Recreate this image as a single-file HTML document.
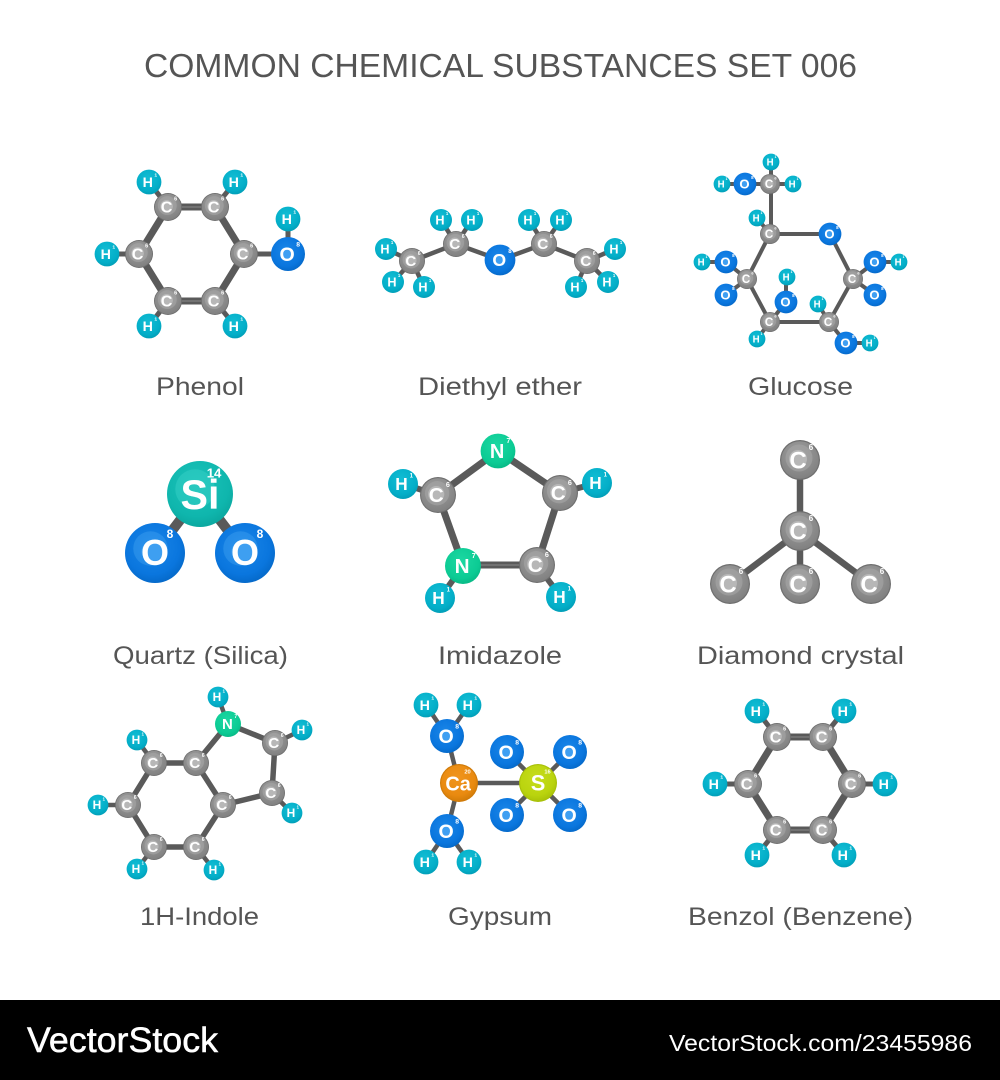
<!DOCTYPE html>
<html>
<head>
<meta charset="utf-8">
<style>
html,body{margin:0;padding:0;background:#fff}
svg{display:block}
.t{font-family:"Liberation Sans",sans-serif;fill:#555;text-anchor:middle}
.e{font:bold 23px "Liberation Sans",sans-serif;fill:#fff;text-anchor:middle}
.n{font:bold 8px "Liberation Sans",sans-serif;fill:#fff;text-anchor:middle}
.b{fill:none;stroke:#5a5a5a;stroke-linecap:butt}
.c{fill:none;stroke:#7a7a7a;stroke-width:1.500}
</style>
</head>
<body>
<svg xmlns="http://www.w3.org/2000/svg" width="1000" height="1080" viewBox="0 0 1000 1080">
<defs>
<radialGradient id="gC" cx=".45" cy=".35" r=".7"><stop offset="0" stop-color="#a0a0a0"/><stop offset="1" stop-color="#7e7e7e"/></radialGradient>
<radialGradient id="gH" cx=".45" cy=".35" r=".7"><stop offset="0" stop-color="#12bdd4"/><stop offset=".7" stop-color="#03aec8"/><stop offset="1" stop-color="#029ab3"/></radialGradient>
<radialGradient id="gO" cx=".45" cy=".4" r=".65"><stop offset="0" stop-color="#1a86e8"/><stop offset=".7" stop-color="#0a76de"/><stop offset="1" stop-color="#0466c4"/></radialGradient>
<radialGradient id="gN" cx=".45" cy=".35" r=".7"><stop offset="0" stop-color="#1cd8a2"/><stop offset=".7" stop-color="#0ccb94"/><stop offset="1" stop-color="#07b583"/></radialGradient>
<radialGradient id="gS" cx=".45" cy=".35" r=".7"><stop offset="0" stop-color="#1cc3ba"/><stop offset=".7" stop-color="#0fb6ad"/><stop offset="1" stop-color="#0aa49c"/></radialGradient>
<radialGradient id="gA" cx=".45" cy=".35" r=".7"><stop offset="0" stop-color="#f0951e"/><stop offset=".7" stop-color="#e98a10"/><stop offset="1" stop-color="#cf7a08"/></radialGradient>
<radialGradient id="gY" cx=".45" cy=".35" r=".7"><stop offset="0" stop-color="#c6dc1c"/><stop offset=".7" stop-color="#bad40e"/><stop offset="1" stop-color="#a6c008"/></radialGradient>
<g id="bC"><circle r="20" fill="#6e6e6e"/><circle r="18.8" fill="url(#gC)"/><circle cx="-1" cy="-2" r="13.500" fill="#a2a2a2" opacity=".7"/><circle cx="-2" cy="-1" r="9" fill="#bdbdbd" opacity=".8"/></g>
<g id="bH"><circle r="20" fill="url(#gH)"/></g>
<g id="bO"><circle r="20" fill="url(#gO)"/><circle cx="-2" cy="-1" r="7" fill="#3f9ff2"/></g>
<g id="bN"><circle r="20" fill="url(#gN)"/></g>
<g id="bS"><circle r="20" fill="url(#gS)"/></g>
<g id="bA"><circle r="20" fill="#cf7a08"/><circle r="18.8" fill="url(#gA)"/></g>
<g id="bY"><circle r="20" fill="#a8c008"/><circle r="18.8" fill="url(#gY)"/></g>
</defs>

<rect width="1000" height="1080" fill="#fff"/>

<text class="t" x="500.500" y="77" font-size="33" textLength="713" lengthAdjust="spacingAndGlyphs">COMMON CHEMICAL SUBSTANCES SET 006</text>

<text class="t" x="200" y="395" font-size="25" textLength="88" lengthAdjust="spacingAndGlyphs">Phenol</text>
<text class="t" x="500" y="395" font-size="25" textLength="164" lengthAdjust="spacingAndGlyphs">Diethyl ether</text>
<text class="t" x="800.500" y="395" font-size="25" textLength="105" lengthAdjust="spacingAndGlyphs">Glucose</text>
<text class="t" x="200.500" y="664" font-size="25" textLength="175" lengthAdjust="spacingAndGlyphs">Quartz (Silica)</text>
<text class="t" x="500" y="664" font-size="25" textLength="124" lengthAdjust="spacingAndGlyphs">Imidazole</text>
<text class="t" x="800.500" y="664" font-size="25" textLength="207" lengthAdjust="spacingAndGlyphs">Diamond crystal</text>
<text class="t" x="199.500" y="925" font-size="25" textLength="119" lengthAdjust="spacingAndGlyphs">1H-Indole</text>
<text class="t" x="500" y="925" font-size="25" textLength="104" lengthAdjust="spacingAndGlyphs">Gypsum</text>
<text class="t" x="800.500" y="925" font-size="25" textLength="225" lengthAdjust="spacingAndGlyphs">Benzol (Benzene)</text>

<!-- Phenol -->
<path class="b" stroke-width="7" d="M168 207H215L244 254L215 301H168L139 254Z"/>
<path class="c" d="M168 207H215M168 301H215"/>
<path class="b" stroke-width="5" d="M168 207L149 182M215 207L235 182M139 254H107M168 301L149 326M215 301L235 326M244 254H288V219"/>
<g transform="translate(149 182) scale(.62)"><use href="#bH"/><text class="e" x="-2" y="8">H</text><text class="n" x="11" y="-9">1</text></g>
<g transform="translate(235 182) scale(.62)"><use href="#bH"/><text class="e" x="-2" y="8">H</text><text class="n" x="11" y="-9">1</text></g>
<g transform="translate(107 254) scale(.62)"><use href="#bH"/><text class="e" x="-2" y="8">H</text><text class="n" x="11" y="-9">1</text></g>
<g transform="translate(149 326) scale(.62)"><use href="#bH"/><text class="e" x="-2" y="8">H</text><text class="n" x="11" y="-9">1</text></g>
<g transform="translate(235 326) scale(.62)"><use href="#bH"/><text class="e" x="-2" y="8">H</text><text class="n" x="11" y="-9">1</text></g>
<g transform="translate(288 219) scale(.62)"><use href="#bH"/><text class="e" x="-2" y="8">H</text><text class="n" x="11" y="-9">1</text></g>
<g transform="translate(168 207) scale(.7)"><use href="#bC"/><text class="e" x="-2" y="8">C</text><text class="n" x="11" y="-9">6</text></g>
<g transform="translate(215 207) scale(.7)"><use href="#bC"/><text class="e" x="-2" y="8">C</text><text class="n" x="11" y="-9">6</text></g>
<g transform="translate(139 254) scale(.7)"><use href="#bC"/><text class="e" x="-2" y="8">C</text><text class="n" x="11" y="-9">6</text></g>
<g transform="translate(244 254) scale(.7)"><use href="#bC"/><text class="e" x="-2" y="8">C</text><text class="n" x="11" y="-9">6</text></g>
<g transform="translate(168 301) scale(.7)"><use href="#bC"/><text class="e" x="-2" y="8">C</text><text class="n" x="11" y="-9">6</text></g>
<g transform="translate(215 301) scale(.7)"><use href="#bC"/><text class="e" x="-2" y="8">C</text><text class="n" x="11" y="-9">6</text></g>
<g transform="translate(288 254) scale(.85)"><use href="#bO"/><text class="e" x="-1" y="8">O</text><text class="n" x="12" y="-9">8</text></g>

<!-- Diethyl ether -->
<path class="b" stroke-width="4.500" d="M412 261L456 244L500 260L544 244L587 261M386 249L412 261L393 282M412 261L424 287M441 220L456 244L472 220M529 220L544 244L561 220M615 249L587 261L608 282M587 261L576 287"/>
<g transform="translate(386 249) scale(.55)"><use href="#bH"/><text class="e" x="-2" y="8">H</text><text class="n" x="11" y="-9">1</text></g>
<g transform="translate(393 282) scale(.55)"><use href="#bH"/><text class="e" x="-2" y="8">H</text><text class="n" x="11" y="-9">1</text></g>
<g transform="translate(424 287) scale(.55)"><use href="#bH"/><text class="e" x="-2" y="8">H</text><text class="n" x="11" y="-9">1</text></g>
<g transform="translate(441 220) scale(.55)"><use href="#bH"/><text class="e" x="-2" y="8">H</text><text class="n" x="11" y="-9">1</text></g>
<g transform="translate(472 220) scale(.55)"><use href="#bH"/><text class="e" x="-2" y="8">H</text><text class="n" x="11" y="-9">1</text></g>
<g transform="translate(529 220) scale(.55)"><use href="#bH"/><text class="e" x="-2" y="8">H</text><text class="n" x="11" y="-9">1</text></g>
<g transform="translate(561 220) scale(.55)"><use href="#bH"/><text class="e" x="-2" y="8">H</text><text class="n" x="11" y="-9">1</text></g>
<g transform="translate(615 249) scale(.55)"><use href="#bH"/><text class="e" x="-2" y="8">H</text><text class="n" x="11" y="-9">1</text></g>
<g transform="translate(608 282) scale(.55)"><use href="#bH"/><text class="e" x="-2" y="8">H</text><text class="n" x="11" y="-9">1</text></g>
<g transform="translate(576 287) scale(.55)"><use href="#bH"/><text class="e" x="-2" y="8">H</text><text class="n" x="11" y="-9">1</text></g>
<g transform="translate(412 261) scale(.65)"><use href="#bC"/><text class="e" x="-2" y="8">C</text><text class="n" x="11" y="-9">6</text></g>
<g transform="translate(456 244) scale(.65)"><use href="#bC"/><text class="e" x="-2" y="8">C</text><text class="n" x="11" y="-9">6</text></g>
<g transform="translate(544 244) scale(.65)"><use href="#bC"/><text class="e" x="-2" y="8">C</text><text class="n" x="11" y="-9">6</text></g>
<g transform="translate(587 261) scale(.65)"><use href="#bC"/><text class="e" x="-2" y="8">C</text><text class="n" x="11" y="-9">6</text></g>
<g transform="translate(500 260) scale(.77)"><use href="#bO"/><text class="e" x="-1" y="8">O</text><text class="n" x="13" y="-9">8</text></g>

<!-- Glucose -->
<path class="b" stroke-width="4" d="M770 234H830L853 279L829 322H770L747 279ZM722 184H793M771 162V234M770 234L757 218M702 262H726L747 279M726 295L747 279M875 262H899M853 279L875 262M853 279L875 295M786 277V302L770 322M818 304L829 322L846 343H870M770 322L757 339"/>
<g transform="translate(771 162) scale(.42)"><use href="#bH"/><text class="e" x="-2" y="8">H</text><text class="n" x="11" y="-9">1</text></g>
<g transform="translate(722 184) scale(.42)"><use href="#bH"/><text class="e" x="-2" y="8">H</text><text class="n" x="11" y="-9">1</text></g>
<g transform="translate(793 184) scale(.42)"><use href="#bH"/><text class="e" x="-2" y="8">H</text><text class="n" x="11" y="-9">1</text></g>
<g transform="translate(757 218) scale(.42)"><use href="#bH"/><text class="e" x="-2" y="8">H</text><text class="n" x="11" y="-9">1</text></g>
<g transform="translate(702 262) scale(.42)"><use href="#bH"/><text class="e" x="-2" y="8">H</text><text class="n" x="11" y="-9">1</text></g>
<g transform="translate(899 262) scale(.42)"><use href="#bH"/><text class="e" x="-2" y="8">H</text><text class="n" x="11" y="-9">1</text></g>
<g transform="translate(787 277) scale(.42)"><use href="#bH"/><text class="e" x="-2" y="8">H</text><text class="n" x="11" y="-9">1</text></g>
<g transform="translate(818 304) scale(.42)"><use href="#bH"/><text class="e" x="-2" y="8">H</text><text class="n" x="11" y="-9">1</text></g>
<g transform="translate(757 339) scale(.42)"><use href="#bH"/><text class="e" x="-2" y="8">H</text><text class="n" x="11" y="-9">1</text></g>
<g transform="translate(870 343) scale(.42)"><use href="#bH"/><text class="e" x="-2" y="8">H</text><text class="n" x="11" y="-9">1</text></g>
<g transform="translate(770 184) scale(.5)"><use href="#bC"/><text class="e" x="-2" y="8">C</text><text class="n" x="11" y="-9">6</text></g>
<g transform="translate(770 234) scale(.5)"><use href="#bC"/><text class="e" x="-2" y="8">C</text><text class="n" x="11" y="-9">6</text></g>
<g transform="translate(747 279) scale(.5)"><use href="#bC"/><text class="e" x="-2" y="8">C</text><text class="n" x="11" y="-9">6</text></g>
<g transform="translate(853 279) scale(.5)"><use href="#bC"/><text class="e" x="-2" y="8">C</text><text class="n" x="11" y="-9">6</text></g>
<g transform="translate(770 322) scale(.5)"><use href="#bC"/><text class="e" x="-2" y="8">C</text><text class="n" x="11" y="-9">6</text></g>
<g transform="translate(829 322) scale(.5)"><use href="#bC"/><text class="e" x="-2" y="8">C</text><text class="n" x="11" y="-9">6</text></g>
<g transform="translate(745 184) scale(.57)"><use href="#bO"/><text class="e" x="-1" y="8">O</text><text class="n" x="13" y="-9">8</text></g>
<g transform="translate(830 234) scale(.57)"><use href="#bO"/><text class="e" x="-1" y="8">O</text><text class="n" x="13" y="-9">8</text></g>
<g transform="translate(726 262) scale(.57)"><use href="#bO"/><text class="e" x="-1" y="8">O</text><text class="n" x="13" y="-9">8</text></g>
<g transform="translate(726 295) scale(.57)"><use href="#bO"/><text class="e" x="-1" y="8">O</text><text class="n" x="13" y="-9">8</text></g>
<g transform="translate(875 262) scale(.57)"><use href="#bO"/><text class="e" x="-1" y="8">O</text><text class="n" x="13" y="-9">8</text></g>
<g transform="translate(875 295) scale(.57)"><use href="#bO"/><text class="e" x="-1" y="8">O</text><text class="n" x="13" y="-9">8</text></g>
<g transform="translate(786 302) scale(.57)"><use href="#bO"/><text class="e" x="-1" y="8">O</text><text class="n" x="13" y="-9">8</text></g>
<g transform="translate(846 343) scale(.57)"><use href="#bO"/><text class="e" x="-1" y="8">O</text><text class="n" x="13" y="-9">8</text></g>

<!-- Quartz -->
<path class="b" stroke-width="10" d="M155 553L200 494L245 553"/>
<g transform="translate(155 553) scale(1.5)"><use href="#bO"/><circle cx="-3" cy="-3" r="11.500" fill="#3d9ff0" opacity=".45"/><text class="e" x="0" y="8" style="font-size:24px">O</text><text class="n" x="10" y="-10">8</text></g>
<g transform="translate(245 553) scale(1.5)"><use href="#bO"/><circle cx="-3" cy="-3" r="11.500" fill="#3d9ff0" opacity=".45"/><text class="e" x="0" y="8" style="font-size:24px">O</text><text class="n" x="10" y="-10">8</text></g>
<g transform="translate(200 494) scale(1.65)"><use href="#bS"/><circle cx="-3" cy="-3" r="12" fill="#35cfc6" opacity=".5"/><text class="e" x="0" y="9" style="font-size:25px">Si</text><text class="n" x="8.500" y="-10">14</text></g>

<!-- Imidazole -->
<path class="b" stroke-width="7" d="M498 451L560 493L537 565H463L438 495Z"/>
<path class="c" d="M463 565H537"/>
<path class="b" stroke-width="6" d="M403 484L438 495M597 483L560 493M440 598L463 566M561 597L537 565"/>
<g transform="translate(403 484) scale(.75)"><use href="#bH"/><text class="e" x="-2" y="8">H</text><text class="n" x="11" y="-9">1</text></g>
<g transform="translate(597 483) scale(.75)"><use href="#bH"/><text class="e" x="-2" y="8">H</text><text class="n" x="11" y="-9">1</text></g>
<g transform="translate(440 598) scale(.75)"><use href="#bH"/><text class="e" x="-2" y="8">H</text><text class="n" x="11" y="-9">1</text></g>
<g transform="translate(561 597) scale(.75)"><use href="#bH"/><text class="e" x="-2" y="8">H</text><text class="n" x="11" y="-9">1</text></g>
<g transform="translate(438 495) scale(.9)"><use href="#bC"/><text class="e" x="-2" y="8">C</text><text class="n" x="11" y="-9">6</text></g>
<g transform="translate(560 493) scale(.9)"><use href="#bC"/><text class="e" x="-2" y="8">C</text><text class="n" x="11" y="-9">6</text></g>
<g transform="translate(537 565) scale(.9)"><use href="#bC"/><text class="e" x="-2" y="8">C</text><text class="n" x="11" y="-9">6</text></g>
<g transform="translate(498 451) scale(.87)"><use href="#bN"/><text class="e" x="-1" y="8">N</text><text class="n" x="12" y="-9">7</text></g>
<g transform="translate(463 566) scale(.9)"><use href="#bN"/><text class="e" x="-1" y="8">N</text><text class="n" x="12" y="-9">7</text></g>

<!-- Diamond -->
<path class="b" stroke-width="6.500" d="M800 460V584M800 531L730 584M800 531L871 584"/>
<g transform="translate(800 460)"><use href="#bC"/><text class="e" x="-2" y="8.500" style="font-size:24px">C</text><text class="n" x="11" y="-10">6</text></g>
<g transform="translate(730 584)"><use href="#bC"/><text class="e" x="-2" y="8.500" style="font-size:24px">C</text><text class="n" x="11" y="-10">6</text></g>
<g transform="translate(800 584)"><use href="#bC"/><text class="e" x="-2" y="8.500" style="font-size:24px">C</text><text class="n" x="11" y="-10">6</text></g>
<g transform="translate(871 584)"><use href="#bC"/><text class="e" x="-2" y="8.500" style="font-size:24px">C</text><text class="n" x="11" y="-10">6</text></g>
<g transform="translate(800 531)"><use href="#bC"/><text class="e" x="-2" y="8.500" style="font-size:24px">C</text><text class="n" x="11" y="-10">6</text></g>

<!-- 1H-Indole -->
<path class="b" stroke-width="5.500" d="M154 763H196L223 805L196 847H154L128 805ZM196 763L228 724L275 743L272 793L223 805"/>
<path class="b" stroke-width="4.500" d="M218 697L228 724M302 730L275 743M292 813L272 793M137 740L154 763M98 805H128M137 869L154 847M214 870L196 847"/>
<g transform="translate(218 697) scale(.52)"><use href="#bH"/><text class="e" x="-2" y="8">H</text><text class="n" x="11" y="-9">1</text></g>
<g transform="translate(302 730) scale(.52)"><use href="#bH"/><text class="e" x="-2" y="8">H</text><text class="n" x="11" y="-9">1</text></g>
<g transform="translate(292 813) scale(.52)"><use href="#bH"/><text class="e" x="-2" y="8">H</text><text class="n" x="11" y="-9">1</text></g>
<g transform="translate(137 740) scale(.52)"><use href="#bH"/><text class="e" x="-2" y="8">H</text><text class="n" x="11" y="-9">1</text></g>
<g transform="translate(98 805) scale(.52)"><use href="#bH"/><text class="e" x="-2" y="8">H</text><text class="n" x="11" y="-9">1</text></g>
<g transform="translate(137 869) scale(.52)"><use href="#bH"/><text class="e" x="-2" y="8">H</text><text class="n" x="11" y="-9">1</text></g>
<g transform="translate(214 870) scale(.52)"><use href="#bH"/><text class="e" x="-2" y="8">H</text><text class="n" x="11" y="-9">1</text></g>
<g transform="translate(275 743) scale(.65)"><use href="#bC"/><text class="e" x="-2" y="8">C</text><text class="n" x="11" y="-9">6</text></g>
<g transform="translate(272 793) scale(.65)"><use href="#bC"/><text class="e" x="-2" y="8">C</text><text class="n" x="11" y="-9">6</text></g>
<g transform="translate(223 805) scale(.65)"><use href="#bC"/><text class="e" x="-2" y="8">C</text><text class="n" x="11" y="-9">6</text></g>
<g transform="translate(196 763) scale(.65)"><use href="#bC"/><text class="e" x="-2" y="8">C</text><text class="n" x="11" y="-9">6</text></g>
<g transform="translate(154 763) scale(.65)"><use href="#bC"/><text class="e" x="-2" y="8">C</text><text class="n" x="11" y="-9">6</text></g>
<g transform="translate(128 805) scale(.65)"><use href="#bC"/><text class="e" x="-2" y="8">C</text><text class="n" x="11" y="-9">6</text></g>
<g transform="translate(154 847) scale(.65)"><use href="#bC"/><text class="e" x="-2" y="8">C</text><text class="n" x="11" y="-9">6</text></g>
<g transform="translate(196 847) scale(.65)"><use href="#bC"/><text class="e" x="-2" y="8">C</text><text class="n" x="11" y="-9">6</text></g>
<g transform="translate(228 724) scale(.65)"><use href="#bN"/><text class="e" x="-1" y="8">N</text><text class="n" x="12" y="-9">7</text></g>

<!-- Gypsum -->
<path class="b" stroke-width="4.500" d="M426 705L447 736L469 705M447 736L459 783L447 831M426 862L447 831L469 862M459 783H538M507 752L570 815M570 752L507 815"/>
<g transform="translate(426 705) scale(.62)"><use href="#bH"/><text class="e" x="-2" y="8">H</text><text class="n" x="11" y="-9">1</text></g>
<g transform="translate(469 705) scale(.62)"><use href="#bH"/><text class="e" x="-2" y="8">H</text><text class="n" x="11" y="-9">1</text></g>
<g transform="translate(426 862) scale(.62)"><use href="#bH"/><text class="e" x="-2" y="8">H</text><text class="n" x="11" y="-9">1</text></g>
<g transform="translate(469 862) scale(.62)"><use href="#bH"/><text class="e" x="-2" y="8">H</text><text class="n" x="11" y="-9">1</text></g>
<g transform="translate(447 736) scale(.85)"><use href="#bO"/><text class="e" x="-1" y="8">O</text><text class="n" x="12" y="-9">8</text></g>
<g transform="translate(447 831) scale(.85)"><use href="#bO"/><text class="e" x="-1" y="8">O</text><text class="n" x="12" y="-9">8</text></g>
<g transform="translate(507 752) scale(.85)"><use href="#bO"/><text class="e" x="-1" y="8">O</text><text class="n" x="12" y="-9">8</text></g>
<g transform="translate(570 752) scale(.85)"><use href="#bO"/><text class="e" x="-1" y="8">O</text><text class="n" x="12" y="-9">8</text></g>
<g transform="translate(507 815) scale(.85)"><use href="#bO"/><text class="e" x="-1" y="8">O</text><text class="n" x="12" y="-9">8</text></g>
<g transform="translate(570 815) scale(.85)"><use href="#bO"/><text class="e" x="-1" y="8">O</text><text class="n" x="12" y="-9">8</text></g>
<g transform="translate(459 783) scale(.95)"><use href="#bA"/><text class="e" x="-1" y="8" style="font-size:21px">Ca</text><text class="n" x="9" y="-10" style="font-size:6px">20</text></g>
<g transform="translate(538 783) scale(.95)"><use href="#bY"/><text class="e" x="0" y="8">S</text><text class="n" x="10" y="-10" style="font-size:6px">16</text></g>

<!-- Benzene -->
<path class="b" stroke-width="7" d="M777 737H823L852 784L823 830H777L748 784Z"/>
<path class="c" d="M777 737H823M777 830H823"/>
<path class="b" stroke-width="5" d="M777 737L757 711M823 737L844 711M748 784H715M852 784H885M777 830L757 855M823 830L844 855"/>
<g transform="translate(757 711) scale(.62)"><use href="#bH"/><text class="e" x="-2" y="8">H</text><text class="n" x="11" y="-9">1</text></g>
<g transform="translate(844 711) scale(.62)"><use href="#bH"/><text class="e" x="-2" y="8">H</text><text class="n" x="11" y="-9">1</text></g>
<g transform="translate(715 784) scale(.62)"><use href="#bH"/><text class="e" x="-2" y="8">H</text><text class="n" x="11" y="-9">1</text></g>
<g transform="translate(885 784) scale(.62)"><use href="#bH"/><text class="e" x="-2" y="8">H</text><text class="n" x="11" y="-9">1</text></g>
<g transform="translate(757 855) scale(.62)"><use href="#bH"/><text class="e" x="-2" y="8">H</text><text class="n" x="11" y="-9">1</text></g>
<g transform="translate(844 855) scale(.62)"><use href="#bH"/><text class="e" x="-2" y="8">H</text><text class="n" x="11" y="-9">1</text></g>
<g transform="translate(777 737) scale(.7)"><use href="#bC"/><text class="e" x="-2" y="8">C</text><text class="n" x="11" y="-9">6</text></g>
<g transform="translate(823 737) scale(.7)"><use href="#bC"/><text class="e" x="-2" y="8">C</text><text class="n" x="11" y="-9">6</text></g>
<g transform="translate(748 784) scale(.7)"><use href="#bC"/><text class="e" x="-2" y="8">C</text><text class="n" x="11" y="-9">6</text></g>
<g transform="translate(852 784) scale(.7)"><use href="#bC"/><text class="e" x="-2" y="8">C</text><text class="n" x="11" y="-9">6</text></g>
<g transform="translate(777 830) scale(.7)"><use href="#bC"/><text class="e" x="-2" y="8">C</text><text class="n" x="11" y="-9">6</text></g>
<g transform="translate(823 830) scale(.7)"><use href="#bC"/><text class="e" x="-2" y="8">C</text><text class="n" x="11" y="-9">6</text></g>

<!-- Footer -->
<rect x="0" y="1000" width="1000" height="80" fill="#000"/>
<text x="27" y="1052" font-family="Liberation Sans, sans-serif" font-size="35" fill="#fff" stroke="#fff" stroke-width=".5" textLength="191" lengthAdjust="spacingAndGlyphs">VectorStock</text>
<text x="669" y="1051" font-family="Liberation Sans, sans-serif" font-size="23" fill="#fff" textLength="303" lengthAdjust="spacingAndGlyphs">VectorStock.com/23455986</text>
</svg>
</body>
</html>
